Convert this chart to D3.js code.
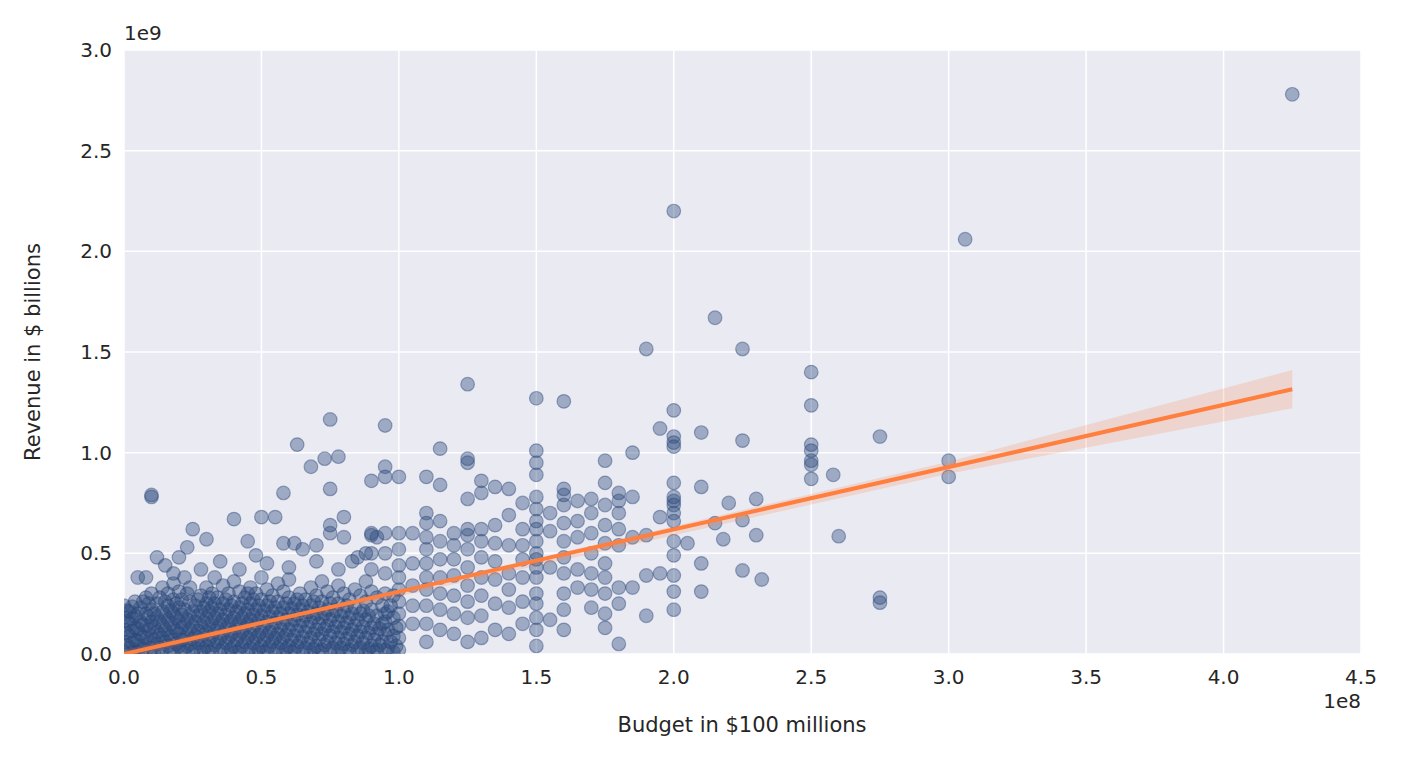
<!DOCTYPE html>
<html><head><meta charset="utf-8">
<script src="https://cdn.jsdelivr.net/npm/d3@7"></script>
<style>body{margin:0;background:#fff}text{font-family:"DejaVu Sans",sans-serif;fill:#262626}</style>
</head><body><div id="chart"></div>
<script>
// budget (millions $), revenue (millions $)
var outliers = [[425,2780],[200,2200],[306,2060],[215,1670],[190,1515],[225,1515],[250,1400],[125,1340],[150,1270],[160,1255],[75,1165],[95,1135],[250,1235],[200,1210],[195,1120],[210,1100],[200,1080],[200,1050],[200,1030],[275,1080],[225,1060],[250,1040],[250,1010],[250,960],[250,940],[250,870],[258,890],[300,960],[300,880],[260,585],[275,280],[275,255],[232,370],[230,590],[230,770],[220,750],[225,665],[225,415],[215,650],[218,570],[210,830],[210,450],[210,310],[205,550],[200,850],[200,780],[200,760],[200,740],[200,700],[200,660],[200,560],[200,490],[200,390],[200,310],[200,220],[195,680],[195,400],[190,590],[190,390],[190,190]];
var midPoints = [[185,1000],[185,780],[185,580],[185,330],[180,800],[180,760],[180,700],[180,620],[180,540],[180,330],[180,250],[180,50],[175,960],[175,850],[175,740],[175,640],[175,550],[175,450],[175,380],[175,300],[175,200],[175,130],[170,770],[170,700],[170,600],[170,500],[170,400],[170,320],[170,230],[165,760],[165,660],[165,580],[165,420],[165,330],[160,820],[160,790],[160,740],[160,650],[160,560],[160,480],[160,400],[160,300],[160,220],[160,120],[155,700],[155,610],[155,430],[155,170],[150,1010],[150,950],[150,890],[150,780],[150,720],[150,660],[150,620],[150,560],[150,500],[150,470],[150,430],[150,380],[150,300],[150,250],[150,180],[150,120],[150,40],[145,750],[145,620],[145,540],[145,470],[145,380],[145,260],[145,150],[140,820],[140,690],[140,540],[140,400],[140,320],[140,230],[140,100],[135,830],[135,640],[135,550],[135,460],[135,370],[135,250],[135,120],[130,860],[130,800],[130,620],[130,560],[130,480],[130,380],[130,290],[130,190],[130,80],[125,970],[125,950],[125,770],[125,620],[125,590],[125,520],[125,430],[125,340],[125,260],[125,180],[125,60],[120,600],[120,540],[120,470],[120,390],[120,290],[120,200],[120,100],[115,1020],[115,840],[115,660],[115,560],[115,470],[115,380],[115,300],[115,220],[115,120],[110,880],[110,700],[110,650],[110,580],[110,520],[110,450],[110,380],[110,320],[110,240],[110,150],[110,60],[105,600],[105,450],[105,340],[105,240],[105,150],[100,880],[100,600],[100,520],[100,440],[100,380],[100,320],[100,260],[100,200],[100,140],[100,80],[100,20],[95,930],[95,880],[95,600],[95,500],[95,400],[95,300],[95,200],[95,100],[90,860],[90,590],[90,500],[90,420]];
var lowBudgetHigh = [[10,790],[10,780],[63,1040],[68,930],[73,970],[75,820],[78,980],[58,800],[50,680],[55,680],[40,670],[25,620],[23,530],[30,570],[45,560],[48,490],[35,460],[20,480],[12,480],[8,380],[5,380],[65,520],[70,540],[75,600],[75,640],[80,680],[80,580],[85,480],[88,500],[90,600],[92,580],[58,550],[62,550],[83,460],[70,460],[52,450],[42,420],[28,420],[15,440],[18,400],[33,380],[60,430],[78,420]];
var dense = [[0,10],[0,60],[0,120],[0,180],[0,240],[2,30],[2,90],[2,150],[2,210],[4,20],[4,70],[4,130],[4,190],[4,260],[6,40],[6,100],[6,160],[6,230],[8,15],[8,80],[8,140],[8,200],[8,280],[10,30],[10,90],[10,160],[10,220],[10,300],[12,50],[12,110],[12,180],[12,250],[14,20],[14,80],[14,140],[14,210],[14,330],[16,40],[16,100],[16,170],[16,240],[16,300],[18,10],[18,70],[18,130],[18,200],[18,270],[18,350],[20,40],[20,100],[20,160],[20,230],[20,310],[22,20],[22,80],[22,150],[22,220],[22,380],[24,50],[24,120],[24,190],[24,260],[24,330],[26,30],[26,90],[26,160],[26,240],[28,10],[28,70],[28,140],[28,210],[28,290],[30,40],[30,110],[30,180],[30,250],[30,330],[32,20],[32,90],[32,160],[32,230],[32,300],[34,60],[34,130],[34,200],[34,280],[36,30],[36,100],[36,170],[36,250],[36,340],[38,10],[38,80],[38,150],[38,220],[38,300],[40,40],[40,110],[40,180],[40,260],[40,360],[42,20],[42,90],[42,160],[42,230],[42,310],[44,60],[44,130],[44,200],[44,280],[46,30],[46,100],[46,170],[46,250],[46,330],[48,10],[48,80],[48,150],[48,220],[48,300],[50,40],[50,110],[50,190],[50,270],[50,380],[52,20],[52,90],[52,160],[52,240],[52,320],[54,60],[54,130],[54,210],[54,290],[56,30],[56,100],[56,180],[56,260],[56,350],[58,10],[58,80],[58,150],[58,230],[58,310],[60,40],[60,120],[60,200],[60,280],[60,370],[62,20],[62,90],[62,170],[62,250],[64,60],[64,140],[64,220],[64,300],[66,30],[66,110],[66,190],[66,270],[68,10],[68,80],[68,160],[68,240],[68,330],[70,40],[70,120],[70,200],[70,290],[72,20],[72,100],[72,180],[72,260],[72,360],[74,60],[74,140],[74,220],[74,310],[76,30],[76,110],[76,190],[76,280],[78,10],[78,80],[78,160],[78,250],[78,340],[80,50],[80,130],[80,210],[80,300],[82,20],[82,100],[82,180],[82,270],[84,60],[84,140],[84,230],[84,320],[86,30],[86,110],[86,200],[86,290],[88,10],[88,80],[88,170],[88,260],[88,360],[90,40],[90,130],[90,220],[90,310],[92,20],[92,100],[92,190],[92,280],[94,60],[94,150],[94,240],[96,30],[96,120],[96,210],[98,10],[98,90],[98,180],[98,290]];
var denseFill = [[1,45],[1,105],[1,165],[1,215],[3,5],[3,55],[3,115],[3,175],[3,235],[5,10],[5,65],[5,125],[5,200],[7,25],[7,85],[7,145],[7,260],[9,50],[9,120],[9,185],[9,250],[11,10],[11,70],[11,135],[11,200],[13,30],[13,95],[13,160],[13,280],[15,60],[15,120],[15,190],[15,260],[17,15],[17,85],[17,150],[17,215],[19,50],[19,115],[19,180],[19,250],[21,15],[21,70],[21,130],[21,195],[21,270],[23,40],[23,100],[23,170],[23,300],[25,10],[25,75],[25,140],[25,210],[27,55],[27,115],[27,190],[27,270],[29,25],[29,95],[29,160],[29,230],[31,10],[31,70],[31,140],[31,210],[31,280],[33,45],[33,115],[33,180],[33,250],[35,15],[35,80],[35,150],[35,220],[37,55],[37,125],[37,195],[37,270],[39,25],[39,95],[39,165],[39,240],[41,10],[41,70],[41,140],[41,210],[43,40],[43,110],[43,180],[43,250],[45,15],[45,80],[45,150],[45,220],[45,300],[47,55],[47,125],[47,195],[47,270],[49,25],[49,95],[49,170],[49,240],[51,10],[51,70],[51,140],[51,215],[53,40],[53,110],[53,185],[53,260],[55,15],[55,80],[55,155],[55,230],[57,55],[57,125],[57,200],[59,25],[59,95],[59,170],[59,250],[61,10],[61,70],[61,145],[61,225],[63,40],[63,115],[63,195],[63,270],[65,15],[65,85],[65,165],[65,240],[67,55],[67,135],[67,210],[69,25],[69,100],[69,180],[69,260],[71,10],[71,75],[71,150],[71,230],[73,45],[73,125],[73,200],[75,20],[75,90],[75,170],[75,250],[77,55],[77,135],[77,215],[79,30],[79,110],[79,190],[81,10],[81,75],[81,155],[81,240],[83,45],[83,120],[83,200],[85,20],[85,90],[85,170],[87,55],[87,135],[87,215],[89,25],[89,105],[89,190],[91,10],[91,70],[91,150],[93,45],[93,125],[95,20],[95,160],[97,60],[97,240],[99,40],[99,130]];
var points = outliers.concat(midPoints, lowBudgetHigh, dense, denseFill);
var fitX = [0, 425], fitY = [0, 1315];
var bandX = [0, 100, 200, 300, 425];
var bandLo = [-20, 285, 590, 895, 1220];
var bandHi = [20, 315, 635, 955, 1410];
var xTicks = [0,0.5,1,1.5,2,2.5,3,3.5,4,4.5];
var yTicks = [0,0.5,1,1.5,2,2.5,3];

var W = 1404, H = 760, m = {l:124, r:43, t:50, b:106};
var svg = d3.select('#chart').append('svg').attr('width', W).attr('height', H);
var x = d3.scaleLinear().domain([0, 450]).range([m.l, W - m.r]);
var y = d3.scaleLinear().domain([0, 3000]).range([H - m.b, m.t]);

svg.append('rect').attr('x', m.l).attr('y', m.t).attr('width', W - m.r - m.l).attr('height', H - m.b - m.t).attr('fill', '#eaeaf2');
svg.append('clipPath').attr('id', 'c').append('rect').attr('x', m.l).attr('y', m.t).attr('width', W - m.r - m.l).attr('height', H - m.b - m.t);

svg.append('g').selectAll('line').data(xTicks).join('line')
	.attr('x1', function(d) { return x(d * 100); }).attr('x2', function(d) { return x(d * 100); })
	.attr('y1', m.t).attr('y2', H - m.b).attr('stroke', '#fff').attr('stroke-width', 1.5);
svg.append('g').selectAll('line').data(yTicks).join('line')
	.attr('y1', function(d) { return y(d * 1000); }).attr('y2', function(d) { return y(d * 1000); })
	.attr('x1', m.l).attr('x2', W - m.r).attr('stroke', '#fff').attr('stroke-width', 1.5);

var plot = svg.append('g').attr('clip-path', 'url(#c)');
plot.selectAll('circle').data(points).join('circle')
	.attr('cx', function(d) { return x(d[0]); }).attr('cy', function(d) { return y(d[1]); })
	.attr('r', 6.8).attr('fill', 'rgba(44,74,124,0.4)').attr('stroke', 'rgba(44,74,124,0.45)').attr('stroke-width', 1.2);

var area = d3.area().x(function(d, i) { return x(bandX[i]); })
	.y0(function(d, i) { return y(bandLo[i]); }).y1(function(d, i) { return y(bandHi[i]); });
plot.append('path').datum(bandX).attr('d', area).attr('fill', 'rgba(255,127,64,0.2)');
plot.append('path').datum(fitX).attr('d', d3.line().x(function(d) { return x(d); }).y(function(d, i) { return y(fitY[i]); }))
	.attr('stroke', '#ff7f3f').attr('stroke-width', 4).attr('fill', 'none');

svg.append('g').selectAll('text').data(xTicks).join('text')
	.attr('x', function(d) { return x(d * 100); }).attr('y', H - m.b + 30).attr('text-anchor', 'middle')
	.attr('font-size', 20).text(function(d) { return d.toFixed(1); });
svg.append('g').selectAll('text').data(yTicks).join('text')
	.attr('x', m.l - 12).attr('y', function(d) { return y(d * 1000) + 7; }).attr('text-anchor', 'end')
	.attr('font-size', 20).text(function(d) { return d.toFixed(1); });

svg.append('text').attr('x', m.l).attr('y', 40).attr('font-size', 20).text('1e9');
svg.append('text').attr('x', W - m.r).attr('y', 708).attr('text-anchor', 'end').attr('font-size', 20).text('1e8');
svg.append('text').attr('x', 742).attr('y', 732).attr('text-anchor', 'middle').attr('font-size', 21).text('Budget in $100 millions');
svg.append('text').attr('transform', 'translate(40,' + (m.t + H - m.b) / 2 + ') rotate(-90)').attr('text-anchor', 'middle').attr('font-size', 21).text('Revenue in $ billions');
</script></body></html>
